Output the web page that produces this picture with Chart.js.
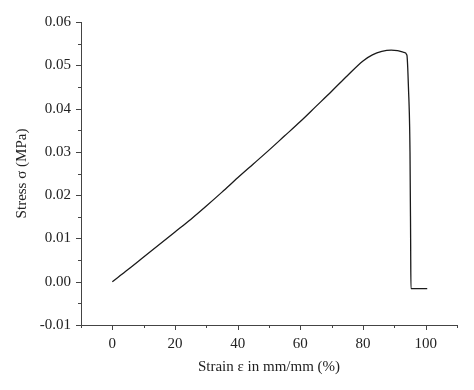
<!DOCTYPE html>
<html>
<head>
<meta charset="utf-8">
<script src="https://cdn.jsdelivr.net/npm/chart.js@4"></script>
<style>
  html, body { margin: 0; padding: 0; background: #fff; }
  #wrap { width: 474px; height: 390px; position: relative; }
</style>
</head>
<body>
<div id="wrap"><canvas id="chart"></canvas></div>
<script>
const strain = [0, 5, 10, 15, 20, 25, 30, 35, 40, 45, 50, 55, 60, 65, 70, 75, 80, 83, 86, 89, 91, 93, 94, 94.5, 95, 95.2, 95.3, 100.5];
const stress = [0, 0.0028, 0.0057, 0.0086, 0.0115, 0.0144, 0.0175, 0.0207, 0.0240, 0.0272, 0.0304, 0.0337, 0.0370, 0.0405, 0.0440, 0.0476, 0.0510, 0.0524, 0.0532, 0.0535, 0.0534, 0.0530, 0.0524, 0.0450, 0.0300, 0.0100, -0.0016, -0.0016];
const xLabels = [0, 20, 40, 60, 80, 100];
const yLabels = [-0.01, 0, 0.01, 0.02, 0.03, 0.04, 0.05, 0.06];

const FONT = {family: '"Liberation Serif", "DejaVu Serif", serif', size: 15};
const INK = '#222';
const AXIS = '#444';

function isLabelled(list, v) {
  return list.some((l) => Math.abs(l - v) < 1e-9);
}

// draws outward ticks, long for labelled values, short for the rest
const tickMarks = {
  id: 'tickMarks',
  afterDraw(chart) {
    const ctx = chart.ctx;
    const {x, y} = chart.scales;
    ctx.save();
    ctx.strokeStyle = AXIS;
    ctx.lineWidth = 1;
    ctx.beginPath();
    x.ticks.forEach((t) => {
      const px = Math.round(x.getPixelForValue(t.value)) + 0.5;
      const len = isLabelled(xLabels, t.value) ? 5 : 3;
      ctx.moveTo(px, y.bottom);
      ctx.lineTo(px, y.bottom + len);
    });
    y.ticks.forEach((t) => {
      const py = Math.round(y.getPixelForValue(t.value)) + 0.5;
      const len = isLabelled(yLabels, t.value) ? 5 : 3;
      ctx.moveTo(x.left, py);
      ctx.lineTo(x.left - len, py);
    });
    ctx.stroke();
    ctx.restore();
  }
};

const chart = new Chart(document.getElementById('chart'), {
  type: 'scatter',
  data: {
    datasets: [{
      data: strain.map((v, i) => ({x: v, y: stress[i]})),
      showLine: true,
      borderColor: '#1a1a1a',
      borderWidth: 1.3,
      pointRadius: 0,
      cubicInterpolationMode: 'monotone',
    }]
  },
  options: {
    responsive: true,
    maintainAspectRatio: false,
    animation: false,
    layout: {padding: {top: 22, right: 17, bottom: 0, left: 0}},
    plugins: {legend: {display: false}, tooltip: {enabled: false}},
    scales: {
      x: {
        type: 'linear',
        min: -10,
        max: 110,
        afterFit(scale) { scale.height = 65; },
        grid: {display: true, drawOnChartArea: false, drawTicks: false},
        border: {display: true, color: AXIS, width: 1},
        ticks: {
          stepSize: 10,
          autoSkip: false,
          maxRotation: 0,
          padding: 10,
          color: INK,
          font: FONT,
          callback: (v) => isLabelled(xLabels, v) ? String(v) : '',
        },
        title: {display: true, text: 'Strain ε in mm/mm (%)', color: INK, font: FONT, padding: {top: 4, bottom: 14}},
      },
      y: {
        min: -0.01,
        max: 0.06,
        afterFit(scale) { scale.width = 81; },
        grid: {display: true, drawOnChartArea: false, drawTicks: false},
        border: {display: true, color: AXIS, width: 1},
        ticks: {
          stepSize: 0.005,
          autoSkip: false,
          padding: 10,
          color: INK,
          font: FONT,
          callback: (v) => isLabelled(yLabels, v) ? (Math.abs(v) < 1e-9 ? 0 : v).toFixed(2) : '',
        },
        title: {display: true, text: 'Stress σ (MPa)', color: INK, font: FONT, padding: {top: 13, bottom: 0}},
      }
    }
  },
  plugins: [tickMarks],
});
</script>
</body>
</html>
